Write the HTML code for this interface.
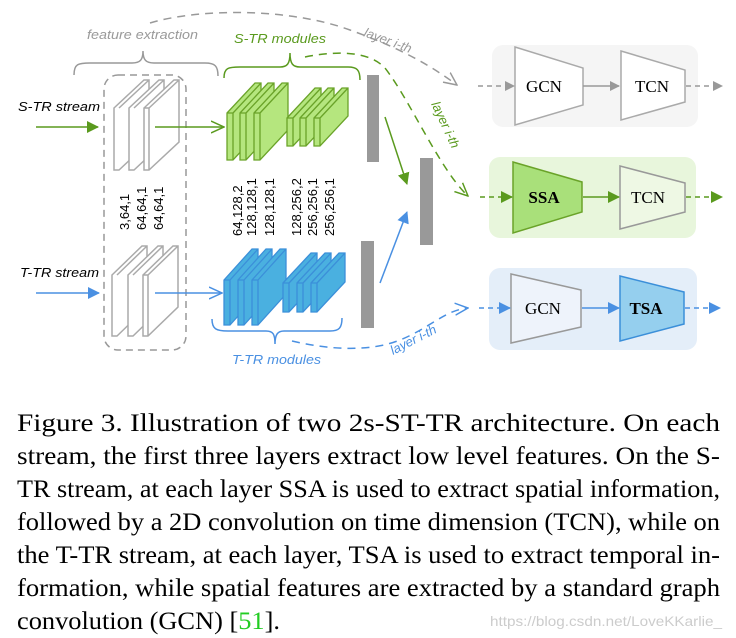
<!DOCTYPE html>
<html><head><meta charset="utf-8"><style>
html,body{margin:0;padding:0;background:#fff;}
svg{display:block;}
.it{font-family:"Liberation Sans",sans-serif;font-style:italic;}
.num{font-family:"Liberation Sans",sans-serif;font-size:13px;fill:#000;}
.cap{font-family:"Liberation Serif",serif;font-size:25px;fill:#000;}
.tm{font-family:"Liberation Serif",serif;font-size:17px;fill:#000;}
</style></head><body>
<svg width="736" height="638" viewBox="0 0 736 638" xmlns="http://www.w3.org/2000/svg">
<defs>
<marker id="mg" markerWidth="10" markerHeight="10" refX="9" refY="5" orient="auto" markerUnits="userSpaceOnUse"><path d="M0,0 L10,5 L0,10 z" fill="#999"/></marker>
<marker id="mgr" markerWidth="12" markerHeight="12" refX="11" refY="6" orient="auto" markerUnits="userSpaceOnUse"><path d="M0,0 L12,6 L0,12 z" fill="#5a9a1e"/></marker>
<marker id="mb" markerWidth="12" markerHeight="12" refX="11" refY="6" orient="auto" markerUnits="userSpaceOnUse"><path d="M0,0 L12,6 L0,12 z" fill="#4a90e2"/></marker>
<marker id="og" markerWidth="14" markerHeight="14" refX="13" refY="7" orient="auto" markerUnits="userSpaceOnUse"><path d="M0,1 L13,7 L0,13" fill="none" stroke="#999" stroke-width="1.5"/></marker>
<marker id="ogr" markerWidth="14" markerHeight="14" refX="13" refY="7" orient="auto" markerUnits="userSpaceOnUse"><path d="M0,1 L13,7 L0,13" fill="none" stroke="#5a9a1e" stroke-width="1.5"/></marker>
<marker id="ob" markerWidth="14" markerHeight="14" refX="13" refY="7" orient="auto" markerUnits="userSpaceOnUse"><path d="M0,1 L13,7 L0,13" fill="none" stroke="#4a90e2" stroke-width="1.5"/></marker>
</defs>

<rect x="492" y="45" width="206" height="82" rx="11" fill="#f5f5f5"/>
<rect x="489" y="157" width="207" height="81" rx="11" fill="#e8f6dc"/>
<rect x="489" y="268" width="208" height="82" rx="11" fill="#e4eef9"/>

<polygon points="515,47 583,68 583,105 515,125" fill="#fff" stroke="#aaa" stroke-width="1.5"/>
<polygon points="621,51 685,70 685,102 621,120" fill="#fff" stroke="#aaa" stroke-width="1.5"/>
<text x="544" y="92" class="tm" text-anchor="middle">GCN</text>
<text x="652" y="92" class="tm" text-anchor="middle">TCN</text>
<line x1="478" y1="86" x2="514" y2="86" stroke="#999" stroke-width="1.5" stroke-dasharray="5,4" marker-end="url(#mg)"/>
<line x1="583" y1="86" x2="619" y2="86" stroke="#999" stroke-width="1.5" marker-end="url(#mg)"/>
<line x1="686" y1="86" x2="722" y2="86" stroke="#999" stroke-width="1.5" stroke-dasharray="5,4" marker-end="url(#mg)"/>

<polygon points="513,162 582,182 582,212 513,233" fill="#a9e07a" stroke="#6aa329" stroke-width="1.5"/>
<polygon points="620,166 685,183 685,212 620,229" fill="#eef8e4" stroke="#999" stroke-width="1.5"/>
<text x="544" y="203" class="tm" font-weight="bold" text-anchor="middle">SSA</text>
<text x="648" y="203" class="tm" text-anchor="middle">TCN</text>
<line x1="480" y1="197" x2="512" y2="197" stroke="#5a9a1e" stroke-width="1.5" stroke-dasharray="5,4" marker-end="url(#mgr)"/>
<line x1="583" y1="197" x2="619" y2="197" stroke="#5a9a1e" stroke-width="1.5" marker-end="url(#mgr)"/>
<line x1="686" y1="197" x2="722" y2="197" stroke="#5a9a1e" stroke-width="1.5" stroke-dasharray="5,4" marker-end="url(#mgr)"/>

<polygon points="511,274 581,290 581,327 511,343" fill="#eef3fb" stroke="#999" stroke-width="1.5"/>
<polygon points="620,276 684,292 684,324 620,341" fill="#95cfee" stroke="#3b8fd9" stroke-width="1.5"/>
<text x="543" y="314" class="tm" text-anchor="middle">GCN</text>
<text x="646" y="314" class="tm" font-weight="bold" text-anchor="middle">TSA</text>
<line x1="479" y1="308" x2="510" y2="308" stroke="#4a90e2" stroke-width="1.5" stroke-dasharray="5,4" marker-end="url(#mb)"/>
<line x1="582" y1="308" x2="619" y2="308" stroke="#4a90e2" stroke-width="1.5" marker-end="url(#mb)"/>
<line x1="685" y1="308" x2="720" y2="308" stroke="#4a90e2" stroke-width="1.5" stroke-dasharray="5,4" marker-end="url(#mb)"/>

<text x="87" y="39" class="it" font-size="13" fill="#999" textLength="111" lengthAdjust="spacingAndGlyphs">feature extraction</text>
<text x="234" y="43" class="it" font-size="13" fill="#5a9a1e" textLength="92" lengthAdjust="spacingAndGlyphs">S-TR modules</text>
<text x="232" y="364" class="it" font-size="13" fill="#4a90e2" textLength="89" lengthAdjust="spacingAndGlyphs">T-TR modules</text>
<text x="18" y="111" class="it" font-size="13" fill="#000" textLength="82" lengthAdjust="spacingAndGlyphs">S-TR stream</text>
<text x="20" y="277" class="it" font-size="13" fill="#000" textLength="79" lengthAdjust="spacingAndGlyphs">T-TR stream</text>

<path d="M74,75 C74,64 78,63 90,63 L132,63 C140,63 143,60 143,51 C143,60 146,63 154,63 L205,63 C215,63 218,66 218,76" fill="none" stroke="#999" stroke-width="1.5"/>
<path d="M224,78 C224,68 228,67 240,67 L280,67 C287,67 290,64 290,53 C290,64 293,67 300,67 L348,67 C357,67 360,70 360,80" fill="none" stroke="#5a9a1e" stroke-width="1.5"/>
<path d="M212,319 C212,329 216,331 228,331 L266,331 C273,331 275,334 275,344 C275,334 278,331 284,331 L330,331 C339,331 342,328 342,318" fill="none" stroke="#4a90e2" stroke-width="1.5"/>

<rect x="104" y="75" width="82" height="275" rx="14" fill="none" stroke="#999" stroke-width="1.5" stroke-dasharray="7,5"/>

<line x1="36" y1="127" x2="98" y2="127" stroke="#5a9a1e" stroke-width="1.5" marker-end="url(#mgr)"/>
<line x1="36" y1="293" x2="99" y2="293" stroke="#4a90e2" stroke-width="1.5" marker-end="url(#mb)"/>

<g fill="#fff" stroke="#aaa" stroke-width="1.5">
<path d="M114,108 l30,-28 h5 v62 l-30,28 h-5 z M119,108 l30,-28"/>
<path d="M129,108 l30,-28 h5 v62 l-30,28 h-5 z M134,108 l30,-28"/>
<path d="M144,108 l30,-28 h5 v62 l-30,28 h-5 z M149,108 l30,-28 M144,108 h5 v62"/>
<path d="M112,275 l30,-29 h5 v61 l-30,29 h-5 z M117,275 l30,-29"/>
<path d="M128,275 l30,-29 h5 v61 l-30,29 h-5 z M133,275 l30,-29"/>
<path d="M143,275 l30,-29 h5 v61 l-30,29 h-5 z M148,275 l30,-29 M143,275 h5 v61"/>
</g>
<line x1="155" y1="127" x2="224" y2="127" stroke="#5a9a1e" stroke-width="1.5" marker-end="url(#ogr)"/>
<line x1="155" y1="293" x2="222" y2="293" stroke="#4a90e2" stroke-width="1.5" marker-end="url(#ob)"/>

<g fill="#b5e67e" stroke="#6aa329" stroke-width="1.3">
<path d="M227,113 l28,-30 h6 v47 l-28,30 h-6 z M233,113 l28,-30 M227,113 h6 v47"/>
<path d="M240,113 l28,-30 h6 v47 l-28,30 h-6 z M246,113 l28,-30 M240,113 h6 v47"/>
<path d="M254,113 l28,-30 h6 v47 l-28,30 h-6 z M260,113 l28,-30 M254,113 h6 v47"/>
<path d="M287,118 l28,-30 h6 v28 l-28,30 h-6 z M293,118 l28,-30 M287,118 h6 v28"/>
<path d="M300,118 l28,-30 h6 v28 l-28,30 h-6 z M306,118 l28,-30 M300,118 h6 v28"/>
<path d="M314,118 l28,-30 h6 v28 l-28,30 h-6 z M320,118 l28,-30 M314,118 h6 v28"/>
</g>
<g fill="#4ab0e0" stroke="#3b8fd9" stroke-width="1.3">
<path d="M224,280 l28,-31 h6 v45 l-28,31 h-6 z M230,280 l28,-31 M224,280 h6 v45"/>
<path d="M238,280 l28,-31 h6 v45 l-28,31 h-6 z M244,280 l28,-31 M238,280 h6 v45"/>
<path d="M252,280 l28,-31 h6 v45 l-28,31 h-6 z M258,280 l28,-31 M252,280 h6 v45"/>
<path d="M283,283 l28,-30 h6 v29 l-28,30 h-6 z M289,283 l28,-30 M283,283 h6 v29"/>
<path d="M297,283 l28,-30 h6 v29 l-28,30 h-6 z M303,283 l28,-30 M297,283 h6 v29"/>
<path d="M311,283 l28,-30 h6 v29 l-28,30 h-6 z M317,283 l28,-30 M311,283 h6 v29"/>
</g>

<g class="num">
<text transform="translate(129,230) rotate(-90)">3,64,1</text>
<text transform="translate(146,230) rotate(-90)">64,64,1</text>
<text transform="translate(163,230) rotate(-90)">64,64,1</text>
<text transform="translate(242,236) rotate(-90)">64,128,2</text>
<text transform="translate(256,236) rotate(-90)">128,128,1</text>
<text transform="translate(274,236) rotate(-90)">128,128,1</text>
<text transform="translate(301,236) rotate(-90)">128,256,2</text>
<text transform="translate(317,236) rotate(-90)">256,256,1</text>
<text transform="translate(334,236) rotate(-90)">256,256,1</text>
</g>

<rect x="367" y="75" width="12" height="87" fill="#999"/>
<rect x="420" y="158" width="13" height="87" fill="#999"/>
<rect x="361" y="241" width="13" height="87" fill="#999"/>
<line x1="385" y1="117" x2="407" y2="184" stroke="#5a9a1e" stroke-width="1.5" marker-end="url(#mgr)"/>
<line x1="380" y1="283" x2="407" y2="212" stroke="#4a90e2" stroke-width="1.5" marker-end="url(#mb)"/>

<path d="M150,23 C200,8 290,8 350,30 C400,48 430,65 457,85" fill="none" stroke="#999" stroke-width="1.5" stroke-dasharray="8,6" marker-end="url(#og)"/>
<path d="M305,57 C340,50 370,52 385,68 C410,100 440,170 468,196" fill="none" stroke="#5a9a1e" stroke-width="1.5" stroke-dasharray="8,6" marker-end="url(#ogr)"/>
<path d="M292,341 C330,350 370,352 400,340 C430,328 445,310 468,308" fill="none" stroke="#4a90e2" stroke-width="1.5" stroke-dasharray="8,6" marker-end="url(#ob)"/>
<text transform="translate(363,36) rotate(20)" class="it" font-size="13" fill="#999">layer i-th</text>
<text transform="translate(431,104) rotate(65)" class="it" font-size="13" fill="#5a9a1e">layer i-th</text>
<text transform="translate(393,355) rotate(-27)" class="it" font-size="13" fill="#4a90e2">layer i-th</text>

<g class="cap">
<text x="17" y="431" textLength="703" lengthAdjust="spacingAndGlyphs">Figure 3. Illustration of two 2s-ST-TR architecture.  On each</text>
<text x="17" y="464" textLength="703" lengthAdjust="spacingAndGlyphs">stream, the first three layers extract low level features. On the S-</text>
<text x="17" y="497" textLength="703" lengthAdjust="spacingAndGlyphs">TR stream, at each layer SSA is used to extract spatial information,</text>
<text x="17" y="530" textLength="703" lengthAdjust="spacingAndGlyphs">followed by a 2D convolution on time dimension (TCN), while on</text>
<text x="17" y="563" textLength="703" lengthAdjust="spacingAndGlyphs">the T-TR stream, at each layer, TSA is used to extract temporal in-</text>
<text x="17" y="596" textLength="703" lengthAdjust="spacingAndGlyphs">formation, while spatial features are extracted by a standard graph</text>
<text x="17" y="629" textLength="263" lengthAdjust="spacingAndGlyphs">convolution (GCN) [<tspan fill="#22cc22">51</tspan>].</text>
</g>
<text x="490" y="626" font-family="Liberation Sans,sans-serif" font-size="14" fill="#ccc" textLength="232" lengthAdjust="spacingAndGlyphs">https://blog.csdn.net/LoveKKarlie_</text>
</svg>
</body></html>
